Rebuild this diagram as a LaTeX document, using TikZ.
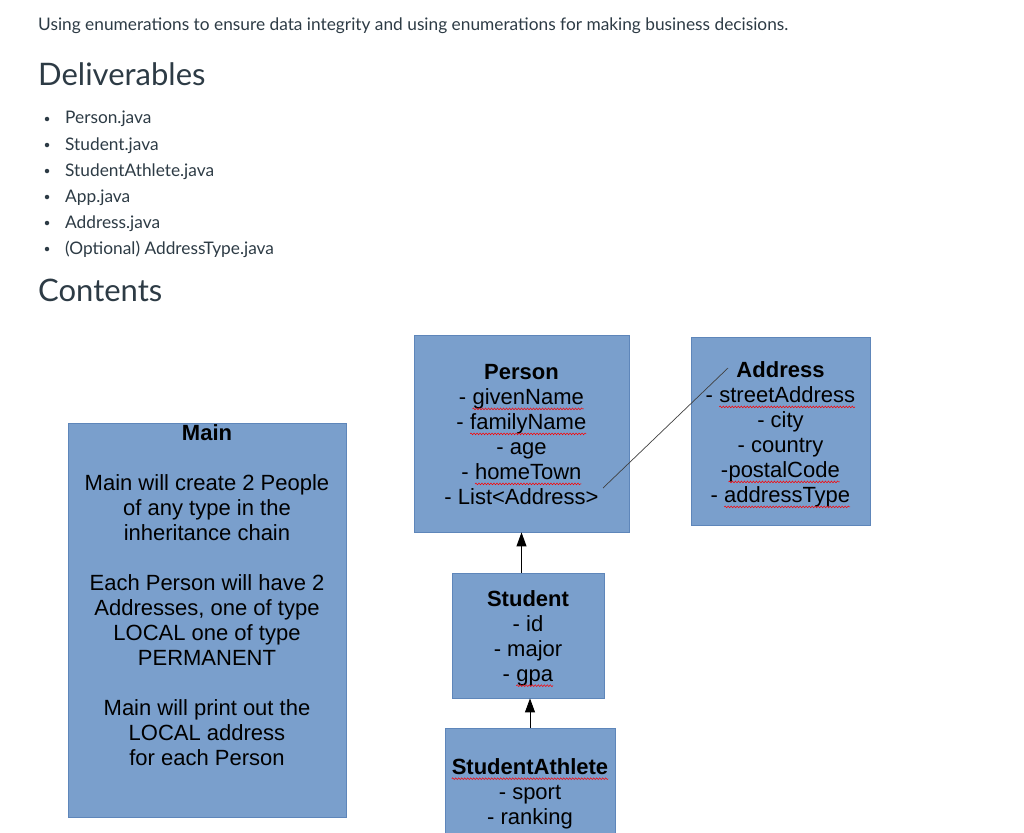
\documentclass[tikz,border=0pt]{standalone}
\usepackage{fontspec}
\setmainfont{Liberation Sans}
\newfontfamily\lato{Lato}
\usetikzlibrary{arrows.meta,decorations.pathmorphing}

\definecolor{boxfill}{HTML}{7A9FCC}
\definecolor{boxline}{HTML}{5E86BA}
\definecolor{pagetext}{HTML}{2D3B45}

% red wavy line under words the spell checker flags
\newcommand\spell[1]{\tikz[baseline=(w.base)]{\node[draw=none, fill=none, inner sep=0pt, outer sep=0pt,
		minimum width=0pt, minimum height=0pt, align=none] (w) {#1};
	\draw[red, line width=0.5pt, decorate, decoration={snake, amplitude=0.9pt, segment length=3pt}]
	([yshift=-4pt]w.base west) -- ([yshift=-4pt]w.base east);}}
% extra room above the first line of a box
\newcommand\padtop[1]{\rule{0pt}{#1}}

\tikzset{
	box/.style={draw=boxline, fill=boxfill, line width=0.8pt, inner sep=0pt,
		align=center, font=\fontsize{22}{25}\selectfont},
	page/.style={text=pagetext, inner sep=0pt, anchor=base west},
	bullet/.style={circle, fill=pagetext, inner sep=0pt, minimum size=4.5pt},
	inh/.style={-{Triangle[width=10pt,length=14pt]}, line width=0.9pt},
	assoc/.style={draw=black!75, line width=0.7pt}
}

\begin{document}
\begin{tikzpicture}[x=1pt, y=-1pt]
			\useasboundingbox (0,0) rectangle (1024,832);
			\clip (0,0) rectangle (1024,832);
			% page text
			\node	(intro) at (38,30.5) [page, font=\lato\fontsize{17.3}{20}\selectfont] {Using enumerations to ensure data integrity and using enumerations for making business decisions.};
			\node	(deliv) at (38,86) [page, font=\lato\fontsize{31}{36}\selectfont] {Deliverables};
			\node	(b1) at (47,119) [bullet] {};
			\node	(b2) at (47,145) [bullet] {};
			\node	(b3) at (47,171) [bullet] {};
			\node	(b4) at (47,197) [bullet] {};
			\node	(b5) at (47,223) [bullet] {};
			\node	(b6) at (47,249) [bullet] {};
			\node	(f1) at (65,124) [page, font=\lato\fontsize{17.3}{20}\selectfont] {Person.java};
			\node	(f2) at (65,150) [page, font=\lato\fontsize{17.3}{20}\selectfont] {Student.java};
			\node	(f3) at (65,176) [page, font=\lato\fontsize{17.3}{20}\selectfont] {StudentAthlete.java};
			\node	(f4) at (65,202) [page, font=\lato\fontsize{17.3}{20}\selectfont] {App.java};
			\node	(f5) at (65,228) [page, font=\lato\fontsize{17.3}{20}\selectfont] {Address.java};
			\node	(f6) at (65,254) [page, font=\lato\fontsize{17.3}{20}\selectfont] {(Optional) AddressType.java};
			\node	(cont) at (38,301) [page, font=\lato\fontsize{31}{36}\selectfont] {Contents};
			% diagram
			\node	(main) at (207,620) [box, minimum width=278pt, minimum height=394pt] {};
			\node	(maintext) at (207,595) [align=center, inner sep=0pt, font=\fontsize{22}{25}\selectfont] {\textbf{Main}\\[25pt]Main will create 2 People\\of any type in the\\inheritance chain\\[25pt]Each Person will have 2\\Addresses, one of type\\LOCAL one of type\\PERMANENT\\[25pt]Main will print out the\\LOCAL address\\for each Person};
			\node	(person) at (521.5,433.5) [box, minimum width=215pt, minimum height=197pt] {\padtop{18pt}\textbf{Person}\\- \spell{givenName}\\- \spell{familyName}\\- age\\- \spell{homeTown}\\- List<Address>};
			\node	(address) at (780.5,431) [box, minimum width=179pt, minimum height=188pt] {\padtop{24pt}\textbf{Address}\\- \spell{streetAddress}\\- city\\- country\\-\spell{postalCode}\\- \spell{addressType}};
			\node	(student) at (528,635.5) [box, minimum width=152pt, minimum height=125pt] {\padtop{22.5pt}\textbf{Student}\\- id\\- major\\- \spell{gpa}};
			\node	(athlete) at (530,791) [box, minimum width=170pt, minimum height=126pt] {\padtop{22pt}\textbf{\spell{StudentAthlete}}\\- sport\\- ranking};
			\coordinate (lst) at (603,488);
			\coordinate (adr) at (728,368);
			\draw 
			(person.south |- student.north) edge[inh] (person.south)
			(athlete.north) edge[inh] (athlete.north |- student.south)
			(lst) edge[assoc] (adr)
			;
		\end{tikzpicture}
\end{document}
